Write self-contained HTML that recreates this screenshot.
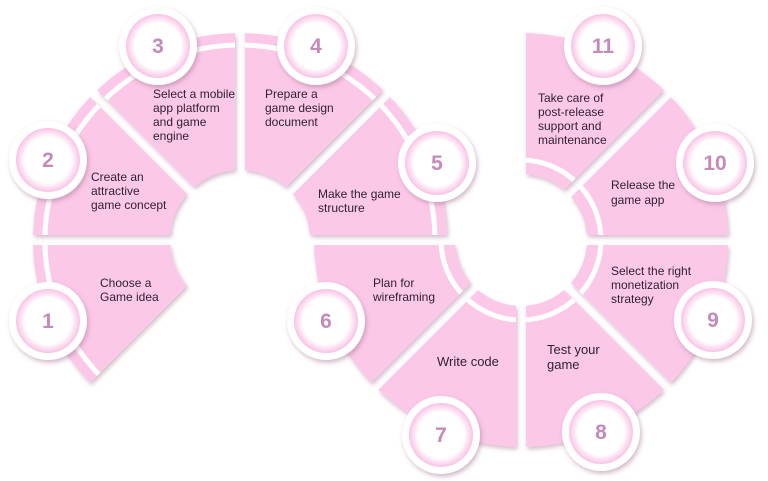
<!DOCTYPE html>
<html><head><meta charset="utf-8">
<style>
html,body{margin:0;padding:0;background:#fff;}
svg{display:block;}
text{font-family:"Liberation Sans",sans-serif;}
.t{font-size:12px;fill:#2f2230;}
.n{font-size:21px;font-weight:bold;fill:#c48ab8;text-anchor:middle;}
</style></head><body>
<svg width="768" height="481" viewBox="0 0 768 481" xmlns="http://www.w3.org/2000/svg">
<defs>
<filter id="sh" x="-10%" y="-10%" width="120%" height="120%">
<feDropShadow dx="1.5" dy="2.5" stdDeviation="2" flood-color="#a0708f" flood-opacity="0.45"/>
</filter>
<filter id="csh" x="-30%" y="-30%" width="160%" height="160%">
<feDropShadow dx="1.5" dy="2.5" stdDeviation="2.5" flood-color="#a0708f" flood-opacity="0.5"/>
</filter>
<radialGradient id="rg">
<stop offset="0" stop-color="#fff"/>
<stop offset="0.72" stop-color="#fff"/>
<stop offset="1" stop-color="#f9c2e5"/>
</radialGradient>
<mask id="m1" maskUnits="userSpaceOnUse" x="0" y="0" width="768" height="481">
<rect width="768" height="481" fill="#fff"/>
<g stroke="#000" stroke-width="10">
<line x1="240" y1="240" x2="460" y2="240"/>
<line x1="240" y1="240" x2="395.6" y2="84.4"/>
<line x1="240" y1="240" x2="240" y2="20"/>
<line x1="240" y1="240" x2="84.4" y2="84.4"/>
<line x1="240" y1="240" x2="20" y2="240"/>
<line x1="240" y1="240" x2="84.4" y2="395.6"/>
</g>
</mask>
<mask id="m2" maskUnits="userSpaceOnUse" x="0" y="0" width="768" height="481">
<rect width="768" height="481" fill="#fff"/>
<g stroke="#000" stroke-width="10">
<line x1="521" y1="240" x2="521" y2="20"/>
<line x1="521" y1="240" x2="676.6" y2="84.4"/>
<line x1="521" y1="240" x2="741" y2="240"/>
<line x1="521" y1="240" x2="676.6" y2="395.6"/>
<line x1="521" y1="240" x2="521" y2="460"/>
<line x1="521" y1="240" x2="365.4" y2="395.6"/>
<line x1="521" y1="240" x2="301" y2="240"/>
</g>
</mask>
</defs>

<g filter="url(#sh)"><g mask="url(#m1)">
<path d="M93.6,386.4 A207,207 0 1 1 447,240 L310,240 A70,70 0 1 0 190.5,289.5 Z" fill="#fcc8e8"/>
<path d="M102.1,377.9 A195,195 0 1 1 435,240" fill="none" stroke="#fff" stroke-width="5"/>
</g></g>

<g filter="url(#sh)"><g mask="url(#m2)">
<path d="M521,33 A207,207 0 1 1 314,240 L455,240 A66,66 0 1 0 521,174 Z" fill="#fcc8e8"/>
<path d="M521,160 A80,80 0 1 1 441,240" fill="none" stroke="#fff" stroke-width="5"/>
</g></g>

<g class="t">
<text x="100" y="287">Choose a</text><text x="100" y="301">Game idea</text>
<text x="91" y="181">Create an</text><text x="91" y="195">attractive</text><text x="91" y="209">game concept</text>
<text x="153" y="98">Select a mobile</text><text x="153" y="112">app platform</text><text x="153" y="126">and game</text><text x="153" y="140">engine</text>
<text x="265" y="98">Prepare a</text><text x="265" y="112">game design</text><text x="265" y="126">document</text>
<text x="318" y="198">Make the game</text><text x="318" y="212">structure</text>
<text x="373" y="287">Plan for</text><text x="373" y="301">wireframing</text>
<text x="437" y="366" style="font-size:13px">Write code</text>
<text x="547" y="354" style="font-size:13px">Test your</text><text x="547" y="369" style="font-size:13px">game</text>
<text x="611" y="275">Select the right</text><text x="611" y="289">monetization</text><text x="611" y="303">strategy</text>
<text x="611" y="189">Release the</text><text x="611" y="204">game app</text>
<text x="538" y="102">Take care of</text><text x="538" y="116">post-release</text><text x="538" y="130">support and</text><text x="538" y="144">maintenance</text>
</g>

<g>
<g filter="url(#csh)">
<circle cx="48" cy="321" r="39" fill="#fff"/><circle cx="48" cy="160" r="39" fill="#fff"/>
<circle cx="158" cy="46" r="39" fill="#fff"/><circle cx="316" cy="46" r="39" fill="#fff"/>
<circle cx="437" cy="163" r="39" fill="#fff"/><circle cx="326" cy="321" r="39" fill="#fff"/>
<circle cx="441" cy="435" r="39" fill="#fff"/><circle cx="601" cy="432" r="39" fill="#fff"/>
<circle cx="713" cy="320" r="39" fill="#fff"/><circle cx="715" cy="163" r="39" fill="#fff"/>
<circle cx="603" cy="46" r="39" fill="#fff"/>
</g>
<g fill="url(#rg)">
<circle cx="48" cy="321" r="32"/><circle cx="48" cy="160" r="32"/>
<circle cx="158" cy="46" r="32"/><circle cx="316" cy="46" r="32"/>
<circle cx="437" cy="163" r="32"/><circle cx="326" cy="321" r="32"/>
<circle cx="441" cy="435" r="32"/><circle cx="601" cy="432" r="32"/>
<circle cx="713" cy="320" r="32"/><circle cx="715" cy="163" r="32"/>
<circle cx="603" cy="46" r="32"/>
</g>
<g class="n">
<text x="48" y="328">1</text><text x="48" y="167">2</text>
<text x="158" y="53">3</text><text x="316" y="53">4</text>
<text x="437" y="170">5</text><text x="326" y="328">6</text>
<text x="441" y="442">7</text><text x="601" y="439">8</text>
<text x="713" y="327">9</text><text x="715" y="170">10</text>
<text x="603" y="53">11</text>
</g>
</g>
</svg>
</body></html>
